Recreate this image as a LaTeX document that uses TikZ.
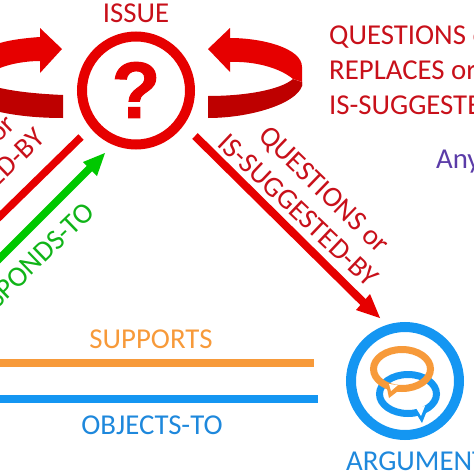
\documentclass[tikz,border=0pt]{standalone}
\usepackage{fontspec}
\setmainfont{Carlito}
\newfontfamily\qfont[FakeBold=1.2]{Liberation Sans Bold}
\definecolor{cred}{HTML}{E60000}
\definecolor{dred}{HTML}{BE0000}
\definecolor{tred}{HTML}{C8101A}
\definecolor{cgreen}{HTML}{00C800}
\definecolor{tgreen}{HTML}{10B418}
\definecolor{corange}{HTML}{F79A3A}
\definecolor{cblue}{HTML}{1496F2}
\definecolor{tblue}{HTML}{1E88DC}
\definecolor{cpurple}{HTML}{5B3CA8}
\tikzset{
  lab/.style={font=\fontsize{28.8}{30}\selectfont,inner sep=0pt,anchor=base west},
  rlab/.style={lab,anchor=base},
  ring/.style={circle,draw,line width=10pt,minimum size=108pt,inner sep=0pt,fill=white},
  link/.style={line width=7.5pt},
}
\begin{document}
\begin{tikzpicture}[x=1pt,y=-1pt]
\useasboundingbox (0,0) rectangle (474,474);
\clip (0,0) rectangle (474,474);
% loops
\fill[dred] (208,96) .. controls (245,96) and (280,90) .. (293,79) -- (302,82) -- (302,86) .. controls (296,104) and (250,118) .. (208,118) -- cycle;
\fill[cred] (208,49) -- (230,28) -- (230,38) .. controls (262,38) and (302,48) .. (302,67) -- (302,86) -- (302,82) .. controls (300,81) and (296,80) .. (293,79) .. controls (280,68) and (255,61) .. (230,62) -- (230,72) -- cycle;
\fill[dred] (63,95) .. controls (40,94) and (18,92) .. (0,88) -- (0,112) .. controls (18,116) and (40,118) .. (63,118) -- cycle;
\fill[cred] (62,49) -- (40,28) -- (40,37) .. controls (25,38) and (10,40) .. (0,43) -- (0,68) .. controls (10,64) and (25,61) .. (40,61) -- (40,73) -- cycle;
% nodes
\node[ring,draw=cred] (issue) at (136,90.5) {};
\node[font=\qfont\fontsize{80}{80}\selectfont,text=cred,inner sep=0pt] (qm) at (136,90) {?};
\node[ring,draw=cblue] (argument) at (405,381) {};
% bubbles
\draw[cblue,line width=7pt] (408,394) ellipse (28.5 and 19.5);
\fill[cblue] (414,410) -- (422,423) -- (428,408) -- cycle;
\fill[white] (416,408) -- (421,416) -- (425,406) -- cycle;
\draw[corange,line width=7pt] (402,369) ellipse (28.5 and 19.5);
\fill[corange] (386,384) -- (389,398) -- (402,388) -- cycle;
\fill[white] (389,384) -- (391,391) -- (398,385) -- cycle;
% connectors
\coordinate (l1a) at (81,137); \coordinate (l1b) at (-10,226);
\coordinate (ga) at (97,161);  \coordinate (gb) at (-20,278);
\coordinate (ra) at (195,136); \coordinate (rb) at (367,306);
\coordinate (oa) at (-5,363);  \coordinate (ob) at (314,363);
\coordinate (ba) at (-5,399);  \coordinate (bb) at (318,399);
\draw[link,cred] (l1a) -- (l1b);
\draw[link,cgreen] (ga) -- (gb);
\draw[link,cred,line width=8pt] (ra) -- (rb);
\draw[corange,line width=8pt] (oa) -- (ob);
\draw[cblue,line width=7.5pt] (ba) -- (bb);
\fill[cgreen] (105,153) -- (83,162) -- (97,176) -- cycle;
\fill[cred] (380,318) -- (370,294) -- (356,310) -- cycle;
% labels
\node[rlab,text=tred] (tissue) at (136,22) {ISSUE};
\node[lab,text=tred] (t1) at (329,44) {QUESTIONS or};
\node[lab,text=tred] (t2) at (329,79) {REPLACES or};
\node[lab,text=tred] (t3) at (329,114) {IS-SUGGESTED-BY};
\node[lab,text=cpurple] (t4) at (436,168) {Any};
\node[rlab,text=tred,rotate=-44] (t5) at (318,196) {QUESTIONS or};
\node[rlab,text=tred,rotate=-43.5] (t6) at (292,217) {IS-SUGGESTED-BY};
\node[rlab,text=tred,rotate=44] (t7) at (-44,185) {QUESTIONS or};
\node[rlab,text=tred,rotate=44] (t8) at (-28,212) {IS-SUGGESTED-BY};
\node[rlab,text=tgreen,rotate=44] (t9) at (36,272) {RESPONDS-TO};
\node[rlab,text=corange] (t10) at (151,348) {SUPPORTS};
\node[rlab,text=tblue] (t11) at (152,434) {OBJECTS-TO};
\node[lab,text=tblue] (t12) at (346,470) {ARGUMENT};
\end{tikzpicture}
\end{document}
